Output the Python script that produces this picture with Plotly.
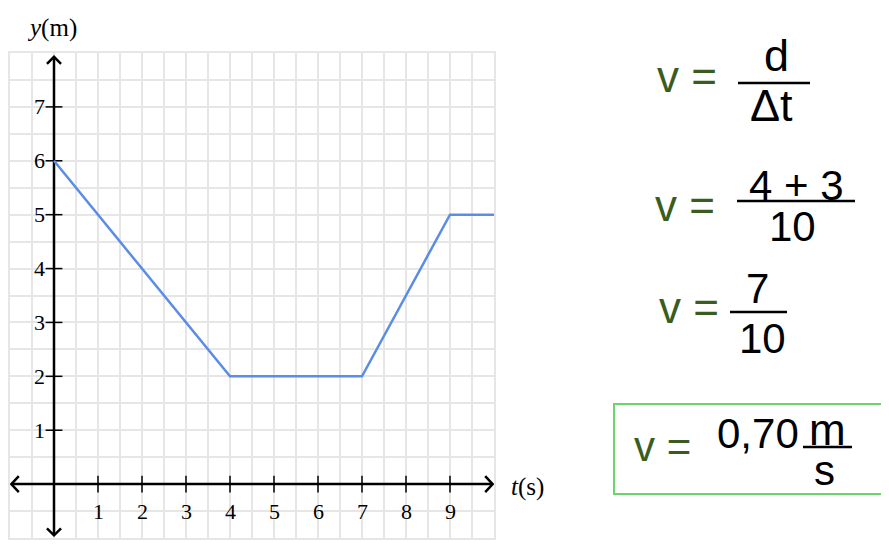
import plotly.graph_objects as go

# ====== Datos ======
t_vals = [0, 4, 7, 9, 10]
y_vals = [6, 2, 2, 5, 5]
x_ticks = [1, 2, 3, 4, 5, 6, 7, 8, 9]
y_ticks = [1, 2, 3, 4, 5, 6, 7]

GREEN = "#3b5c1f"
SERIF = "Liberation Serif"
SANS = "Liberation Sans"

# plot area in page pixels: x 10..494, y 53..538 (page has 8px body margin)
def px(x):
    return (x - 10) / 484

def py(y):
    return (538 - y) / 485

fig = go.Figure()

# ====== Ejes con flechas ======
ax_col = "black"
fig.add_trace(go.Scatter(x=[-0.97, 9.97], y=[0, 0], mode="lines",
                         line=dict(color=ax_col, width=2.5), hoverinfo="skip"))
fig.add_trace(go.Scatter(x=[0, 0], y=[-0.95, 7.93], mode="lines",
                         line=dict(color=ax_col, width=2.5), hoverinfo="skip"))
arrows = [
    ([9.8, 9.97, 9.8], [0.15, 0, -0.15]),
    ([-0.8, -0.97, -0.8], [0.15, 0, -0.15]),
    ([-0.16, 0, 0.16], [7.8, 7.93, 7.8]),
    ([-0.16, 0, 0.16], [-0.82, -0.95, -0.82]),
]
for ax_, ay_ in arrows:
    fig.add_trace(go.Scatter(x=ax_, y=ay_, mode="lines",
                             line=dict(color=ax_col, width=2.5), hoverinfo="skip"))

# ticks
fig.add_trace(go.Scatter(x=x_ticks, y=[0] * len(x_ticks), mode="markers",
                         marker=dict(symbol="line-ns", size=12,
                                     line=dict(color=ax_col, width=1.5)),
                         hoverinfo="skip"))
fig.add_trace(go.Scatter(x=[0] * len(y_ticks), y=y_ticks, mode="markers",
                         marker=dict(symbol="line-ew", size=12,
                                     line=dict(color=ax_col, width=1.5)),
                         hoverinfo="skip"))

# ====== Posicion vs tiempo ======
fig.add_trace(go.Scatter(x=t_vals, y=y_vals, mode="lines",
                         line=dict(color="#5b8de6", width=2.5), hoverinfo="skip"))

annotations = []
for v in x_ticks:
    annotations.append(dict(x=v, y=0, xref="x", yref="y", text=str(v), showarrow=False,
                            yshift=-27, font=dict(family=SERIF, size=22, color="#000")))
for v in y_ticks:
    annotations.append(dict(x=0, y=v, xref="x", yref="y", text=str(v), showarrow=False,
                            xshift=-15, font=dict(family=SERIF, size=22, color="#000")))

annotations.append(dict(x=px(52), y=py(28), xref="paper", yref="paper",
                        xanchor="center", yanchor="middle",
                        text="<i>y</i>(m)", showarrow=False,
                        font=dict(family=SERIF, size=25, color="#000")))
annotations.append(dict(x=px(527), y=py(487), xref="paper", yref="paper",
                        xanchor="center", yanchor="middle",
                        text="<i>t</i>(s)", showarrow=False,
                        font=dict(family=SERIF, size=25, color="#000")))

# ====== Formulas ======
def txt(x, y, s, size=42, color="black"):
    annotations.append(dict(x=px(x), y=py(y), xref="paper", yref="paper", text=s,
                            showarrow=False, xanchor="center", yanchor="middle",
                            font=dict(family=SANS, size=size, color=color)))

shapes = []
def frac_line(x0, x1, y):
    shapes.append(dict(type="line", xref="paper", yref="paper",
                       x0=px(x0), x1=px(x1), y0=py(y), y1=py(y),
                       line=dict(color="black", width=2.5)))

txt(687, 76, "v =", 44, GREEN)
txt(776, 56, "d", 45)
frac_line(738, 810, 83)
txt(771, 106, "Δt", 45)

txt(685, 205, "v =", 44, GREEN)
txt(796, 185, "4 + 3", 42)
frac_line(737, 855, 201)
txt(792, 227, "10", 42)

txt(689, 307, "v =", 44, GREEN)
txt(757, 288, "7", 42)
frac_line(730, 787, 312)
txt(762, 338, "10", 42)

shapes.append(dict(type="rect", xref="paper", yref="paper",
                   x0=px(614), x1=px(882), y0=py(404), y1=py(494),
                   line=dict(color="#6cd46c", width=2)))
txt(662, 446, "v =", 42, GREEN)
txt(758, 433, "0,70", 42)
txt(827, 429, "m", 44)
frac_line(803, 852, 447)
txt(824, 470, "s", 42)

grid = dict(showgrid=True, gridcolor="#e6e6e6", gridwidth=2, tick0=0, dtick=0.5,
            showticklabels=False, ticks="", zeroline=False, showline=True,
            linecolor="#e6e6e6", linewidth=2, mirror=True, fixedrange=True)

fig.update_layout(
    width=889, height=545,
    margin=dict(l=2, r=403, t=45, b=15),
    paper_bgcolor="white", plot_bgcolor="white",
    showlegend=False,
    xaxis=dict(range=[-1, 10], **grid),
    yaxis=dict(range=[-1, 8], **grid),
    annotations=annotations,
    shapes=shapes,
)

fig.write_html("out.html")
